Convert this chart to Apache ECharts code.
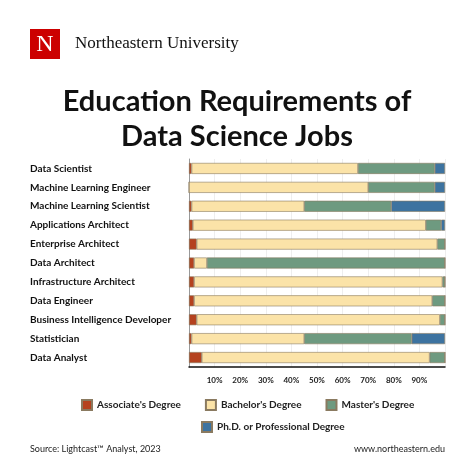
<!DOCTYPE html>
<html><head><meta charset="utf-8">
<script src="https://cdn.jsdelivr.net/npm/echarts@6/dist/echarts.min.js"></script>
<style>html,body{margin:0;padding:0;background:#fff}#c{width:474px;height:474px}</style>
</head><body><div id="c"></div>
<script>
const categories = ["Data Scientist","Machine Learning Engineer","Machine Learning Scientist","Applications Architect","Enterprise Architect","Data Architect","Infrastructure Architect","Data Engineer","Business Intelligence Developer","Statistician","Data Analyst"];
const associate = [1,0,1,1.5,3,2,2,2,3,1,5];
const bachelor = [65,70,44,91,94,5,97,93,95,44,89];
const master = [30,26,34,6,3,93,1,5,2,42,6];
const phd = [4,4,21,1.5,0,0,0,0,0,13,0];
const seriesNames = ["Associate's Degree","Bachelor's Degree","Master's Degree","Ph.D. or Professional Degree"];
const colors = ["#b5421f","#fbe3a8","#6e9a80","#3d73a0"];
const tickLabels = {10:"10%",20:"20%",30:"30%",40:"40%",50:"50%",60:"60%",70:"70%",80:"80%",90:"90%"};

const chart = echarts.init(document.getElementById('c'));
const data = [associate,bachelor,master,phd];
const legendText = {fontFamily:'Lato',fontSize:10,fontWeight:'bold',color:'#222'};
chart.setOption({
  animation:false,
  title:{text:"Education Requirements of\nData Science Jobs",left:'center',top:79,
    textStyle:{fontFamily:'Lato',fontWeight:'bold',fontSize:29,lineHeight:35,color:'#111'}},
  legend:[
    {data:seriesNames.slice(0,3),left:76,top:394,itemWidth:10,itemHeight:10,itemGap:24,icon:'rect',textStyle:legendText},
    {data:[seriesNames[3]],left:196,top:416,itemWidth:10,itemHeight:10,icon:'rect',textStyle:legendText}
  ],
  grid:{left:189,right:29,top:159,bottom:107},
  xAxis:{type:'value',min:0,max:100,interval:10,
    axisLine:{show:true,lineStyle:{color:'#111',width:1.5}},axisTick:{show:false},
    splitLine:{show:true,lineStyle:{color:'#eee'}},
    axisLabel:{formatter:v=>tickLabels[v]||'',fontFamily:'Lato',fontSize:8,fontWeight:'bold',color:'#222',margin:9}},
  yAxis:{type:'category',data:categories,inverse:true,
    axisLine:{show:true,lineStyle:{color:'#999'}},axisTick:{show:false},
    axisLabel:{align:'left',margin:159,fontFamily:'Lato',fontSize:10,fontWeight:'bold',color:'#111'}},
  series:data.map((d,i)=>({name:seriesNames[i],type:'bar',stack:'s',data:d,barWidth:11,
    itemStyle:{color:colors[i],borderColor:'#8a7a60',borderWidth:0.6}})),
  graphic:[
    {type:'rect',shape:{x:30,y:29,width:30,height:30},style:{fill:'#cc0000'}},
    {type:'text',style:{x:45,y:45,text:'N',fill:'#fff',font:'24px "Liberation Serif"',align:'center',verticalAlign:'middle'}},
    {type:'text',style:{x:75,y:44,text:'Northeastern University',fill:'#111',font:'17px "Liberation Serif"',verticalAlign:'middle'}},
    {type:'text',style:{x:30,y:449,text:'Source: Lightcast\u2122 Analyst, 2023',fill:'#222',font:'9px Lato',verticalAlign:'middle'}},
    {type:'text',style:{x:445,y:449,text:'www.northeastern.edu',fill:'#222',font:'9px Lato',align:'right',verticalAlign:'middle'}}
  ]
});
</script></body></html>
